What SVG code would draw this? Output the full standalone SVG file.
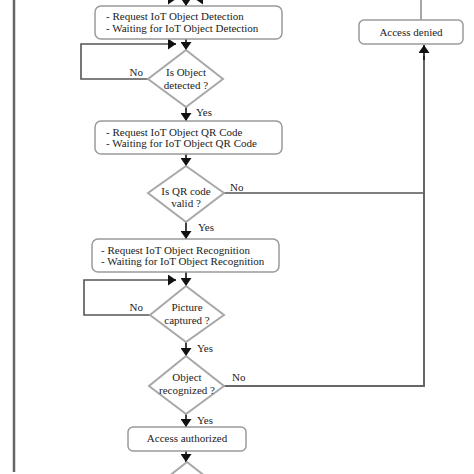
<svg xmlns="http://www.w3.org/2000/svg" width="474" height="474" viewBox="0 0 474 474">
<style>
.box{fill:#fff;stroke:#9a9a9a;stroke-width:1.5}
.dia{fill:#fff;stroke:#a8a8a8;stroke-width:2}
.t{font-family:"Liberation Serif","Times New Roman",serif;font-size:11px;fill:#222}
.c{text-anchor:middle}
.e{text-anchor:end}
.ln{fill:none;stroke:#555;stroke-width:1.6}
.ar{fill:none;stroke:#111;stroke-width:1.6;marker-end:url(#ah)}
</style>
<defs>
<marker id="ah" viewBox="0 0 8 11" refX="8" refY="5.5" markerWidth="8" markerHeight="11" markerUnits="userSpaceOnUse" orient="auto">
<path d="M0,0 L8,5.5 L0,11 z" fill="#111"/>
</marker>
</defs>
<rect width="474" height="474" fill="#fff"/>
<g id="connectors">
<line x1="14" y1="0" x2="14" y2="472" stroke="#666" stroke-width="2.5"/>
<line class="ar" x1="186" y1="-10" x2="186" y2="6"/>
<line class="ar" x1="150" y1="-1" x2="176" y2="-1"/>
<line class="ar" x1="225" y1="-1" x2="195" y2="-1"/>
<line class="ar" x1="186" y1="39" x2="186" y2="50"/>
<polyline class="ln" points="148,79 81,79 81,44 170,44"/>
<line class="ar" x1="168" y1="44" x2="176" y2="44"/>
<line class="ar" x1="186" y1="107" x2="186" y2="121"/>
<line class="ar" x1="186" y1="154" x2="186" y2="166"/>
<line class="ln" x1="224" y1="193" x2="424" y2="193"/>
<line class="ar" x1="186" y1="222" x2="186" y2="239"/>
<line class="ar" x1="186" y1="272" x2="186" y2="286"/>
<polyline class="ln" points="150,315 84,315 84,280 170,280"/>
<line class="ar" x1="168" y1="280" x2="176" y2="280"/>
<line class="ar" x1="186" y1="342" x2="186" y2="356"/>
<polyline class="ln" points="224,386 424,386 424,56" style="stroke:#666;stroke-width:2"/>
<line class="ar" x1="424" y1="60" x2="424" y2="45"/>
<line x1="421" y1="20" x2="421" y2="0" stroke="#888" stroke-width="1.5"/>
<line class="ar" x1="186" y1="414" x2="186" y2="427"/>
<line class="ar" x1="186" y1="451" x2="186" y2="462"/>
</g>
<g id="detect">
<rect class="box" x="95" y="6" width="187" height="33" rx="6"/>
<text class="t" x="106" y="20">- Request IoT Object Detection</text>
<text class="t" x="106" y="31.5">- Waiting for IoT Object Detection</text>
</g>
<g id="isDetected">
<polygon class="dia" points="186,50 223,79 186,107 148,79"/>
<text class="t c" x="186" y="75.5">Is Object</text>
<text class="t c" x="186" y="88.5">detected ?</text>
<text class="t e" x="143" y="75.5">No</text>
<text class="t" x="196" y="115.5">Yes</text>
</g>
<g id="qr">
<rect class="box" x="95" y="121" width="187" height="33" rx="6"/>
<text class="t" x="106" y="135.5">- Request IoT Object QR Code</text>
<text class="t" x="106" y="146.5">- Waiting for IoT Object QR Code</text>
</g>
<g id="isQrValid">
<polygon class="dia" points="186,166 224,193 186,222 148,193"/>
<text class="t c" x="186" y="195">Is QR code</text>
<text class="t c" x="186" y="207">valid ?</text>
<text class="t" x="230" y="191">No</text>
<text class="t" x="198" y="230.5">Yes</text>
</g>
<g id="recognition">
<rect class="box" x="92" y="239" width="187" height="33" rx="6"/>
<text class="t" x="101" y="253.5">- Request IoT Object Recognition</text>
<text class="t" x="101" y="265">- Waiting for IoT Object Recognition</text>
</g>
<g id="isCaptured">
<polygon class="dia" points="186,286 224,315 186,342 150,315"/>
<text class="t c" x="187" y="310.5">Picture</text>
<text class="t c" x="187" y="323.5">captured ?</text>
<text class="t e" x="143" y="310.5">No</text>
<text class="t" x="197" y="352">Yes</text>
</g>
<g id="isRecognized">
<polygon class="dia" points="186,356 224,386 186,414 149,386"/>
<text class="t c" x="187" y="380.5">Object</text>
<text class="t c" x="187" y="393.5">recognized ?</text>
<text class="t" x="232" y="381">No</text>
<text class="t" x="197" y="423.5">Yes</text>
</g>
<g id="authorized">
<rect class="box" x="128" y="427" width="118" height="24" rx="5"/>
<text class="t c" x="187" y="441.5">Access authorized</text>
</g>
<g id="nextDecision">
<polygon class="dia" points="187,462 224,491 187,520 150,491"/>
</g>
<g id="denied">
<rect class="box" x="359" y="20" width="104" height="24" rx="5"/>
<text class="t c" x="411" y="35.5">Access denied</text>
</g>
</svg>
